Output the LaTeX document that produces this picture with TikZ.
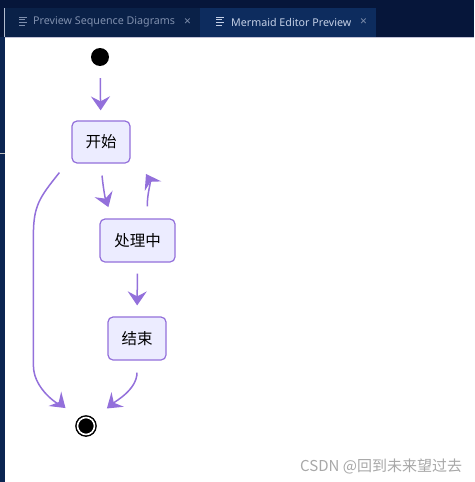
\documentclass[tikz,border=0pt]{standalone}
\usepackage{fontspec}
\newfontfamily\cjk{Noto Sans CJK SC}
\newfontfamily\uifont{Noto Sans}
\usetikzlibrary{arrows.meta}
\definecolor{mpurple}{HTML}{9370DB}
\definecolor{mfill}{HTML}{ECECFF}
\definecolor{hdr}{HTML}{06163A}
\definecolor{tabin}{HTML}{0A2148}
\definecolor{tabact}{HTML}{0D2C5E}
\definecolor{strip}{HTML}{0B2552}
\definecolor{tabtxt}{HTML}{7F8FAD}
\definecolor{tabtxtact}{HTML}{C4D0E6}
\definecolor{wmark}{HTML}{A8A8A8}
\tikzset{
  stbox/.style={draw=mpurple, fill=mfill, line width=1.2pt, rounded corners=5pt, font=\cjk\fontsize{15.5}{17}\selectfont, inner sep=0pt},
  arr/.style={draw=mpurple, line width=1.5pt, -{Stealth[length=14pt,width=19pt,inset=5pt]}},
  tabtext/.style={anchor=west, inner sep=0pt, font=\uifont\fontsize{10.7}{12}\selectfont},
  tabicon/.style={line width=1pt}
}
\begin{document}
\begin{tikzpicture}[x=1pt,y=1pt]
\useasboundingbox (0,0) rectangle (474,-482);
% window chrome
\fill[hdr] (0,0) rectangle (474,-37);
\fill[tabin] (5,-8) rectangle (200,-37);
\fill[tabact] (200,-8) rectangle (376,-37);
\draw[line width=0.8pt, color=tabtxt!60] (4.5,-8) -- (4.5,-37);
\fill[white] (5,-38) rectangle (474,-482);
\fill[strip] (0,-37) rectangle (5,-482);
\draw[line width=1pt, color=blue!20!gray!40] (5,-37.5) -- (474,-37.5);
\draw[line width=1pt, color=gray!50] (0,-153) -- (5,-153);
% tab 1
\foreach \yy/\ll in {17/8,19.7/6,22.4/8,25.1/6}{\draw[tabicon, tabtxt] (19,-\yy) -- ++(\ll,0);}
\node[tabtext, text=tabtxt] (tab1) at (33,-22) {Preview Sequence Diagrams};
\node[tabtext, text=tabtxt, font=\uifont\fontsize{12}{12}\selectfont] (x1) at (184,-22) {×};
% tab 2
\foreach \yy/\ll in {17/8,19.7/6,22.4/8,25.1/6}{\draw[tabicon, tabtxtact] (216,-\yy) -- ++(\ll,0);}
\node[tabtext, text=tabtxtact, font=\uifont\fontsize{10.7}{12}\selectfont] (tab2) at (231,-22) {Mermaid Editor Preview};
\node[tabtext, text=tabtxt, font=\uifont\fontsize{12}{12}\selectfont] (x2) at (360,-22) {×};
% diagram
\node[circle, fill=black, minimum size=18pt, inner sep=0pt] (start) at (100,-57) {};
\node[stbox, minimum width=58pt, minimum height=42pt] (kaishi) at (101,-142) {开始};
\node[stbox, minimum width=75pt, minimum height=43pt] (chuli) at (137.5,-240.5) {处理中};
\node[stbox, minimum width=58pt, minimum height=43pt] (jieshu) at (137,-338.5) {结束};
\node[circle, draw=black, fill=black, line width=1.5pt, double=white, double distance=1.6pt, minimum size=17pt, inner sep=0pt] (end) at (86,-426) {};
% edges
\draw[arr, shorten <=12pt, shorten >=10pt] (start) -- (kaishi);
\draw[arr, shorten <=12pt, shorten >=12pt] (kaishi.south) to[out=-85, in=110] ([xshift=-25pt]chuli.north);
\draw[arr, shorten <=12pt, shorten >=12pt] ([xshift=11pt]chuli.north) to[out=95, in=-60] ([xshift=39pt]kaishi.south);
\draw[arr, shorten <=11pt, shorten >=11pt] (chuli) -- (jieshu);
\draw[arr, shorten <=12pt, shorten >=18pt] (jieshu.south) to[out=-90, in=40] (end);
\draw[arr, shorten >=18pt] ([shift={(-12pt,-9pt)}]kaishi.south west) .. controls +(-20,-25) and +(0,30) .. ++(-26,-63) -- ++(0,-130) .. controls +(0,-28) and +(-16,14) .. (end);
% watermark
\node[anchor=west, inner sep=0pt, text=wmark, font=\cjk\fontsize{15}{17}\selectfont] (wm) at (300,-466) {CSDN @回到未来望过去};
\end{tikzpicture}
\end{document}
